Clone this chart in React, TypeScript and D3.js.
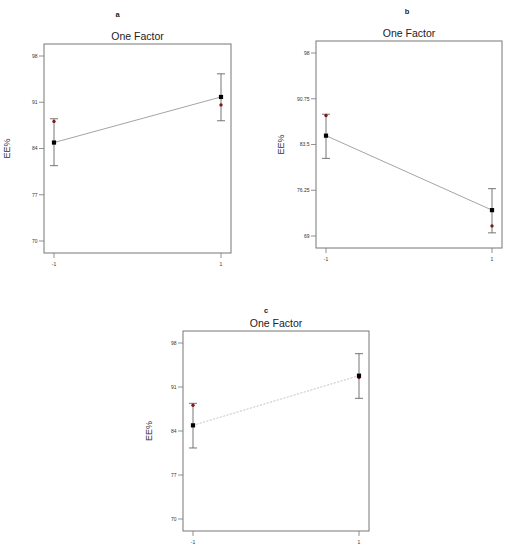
import * as d3 from "d3";

// x levels of the single factor
const LEVELS = [-1, 1];
const X_TICKS = ["-1", "1"];

// panel a
const A_TICKS = [70, 77, 84, 91, 98];
const A_MEAN = [84.9, 91.8];
const A_LOW = [81.4, 88.2];
const A_HIGH = [88.5, 95.3];
const A_ACTUAL = [88.1, 90.6];

// panel b
const B_TICKS = [69, 76.25, 83.5, 90.75, 98];
const B_MEAN = [84.9, 73.1];
const B_LOW = [81.3, 69.5];
const B_HIGH = [88.3, 76.5];
const B_ACTUAL = [88.1, 70.6];

// panel c
const C_TICKS = [70, 77, 84, 91, 98];
const C_MEAN = [84.9, 92.8];
const C_LOW = [81.3, 89.2];
const C_HIGH = [88.4, 96.3];
const C_ACTUAL = [88.1, 92.5];

const FONT = "Arial, 'Liberation Sans', sans-serif";
const PAD_X = 10;
const PAD_Y = 12;

interface PanelProps {
  letter: string;
  letterDx: number;
  letterDy: number;
  x0: number;
  x1: number;
  y0: number;
  y1: number;
  ticks: number[];
  mean: number[];
  low: number[];
  high: number[];
  actual: number[];
  dashed?: boolean;
  labelX: number;
}

function Panel(p: PanelProps) {
  const x = d3.scaleLinear().domain([-1, 1]).range([p.x0 + PAD_X, p.x1 - PAD_X]);
  const y = d3
    .scaleLinear()
    .domain([p.ticks[0], p.ticks[p.ticks.length - 1]])
    .range([p.y1 - PAD_Y, p.y0 + PAD_Y]);
  const cx = (p.x0 + p.x1) / 2;
  const line = d3
    .line<number>()
    .x((_, i) => x(LEVELS[i]))
    .y((d) => y(d));
  const cy = (p.y0 + p.y1) / 2;

  return (
    <g fontFamily={FONT}>
      <text x={cx + p.letterDx} y={p.y0 - p.letterDy} textAnchor="middle" fontSize={7.5} fontWeight="bold" fill="#222">
        {p.letter}
      </text>
      <text x={cx} y={p.y0 - 4} textAnchor="middle" fontSize={10.5} fill="#222">
        One Factor
      </text>
      <text
        transform={`translate(${p.labelX},${cy}) rotate(-90)`}
        textAnchor="middle"
        dominantBaseline="middle"
        fontSize={9}
        fill="#333"
      >
        EE%
      </text>

      <rect x={p.x0} y={p.y0} width={p.x1 - p.x0} height={p.y1 - p.y0} fill="none" stroke="#777" strokeWidth={1} />

      {p.ticks.map((t) => (
        <g key={t} transform={`translate(${p.x0},${y(t)})`}>
          <line x1={-5} x2={0} stroke="#777" strokeWidth={0.8} />
          <text x={-6.5} dy="0.35em" textAnchor="end" fontSize={5} fill="#333">
            {t}
          </text>
        </g>
      ))}

      {LEVELS.map((lv, i) => (
        <g key={lv} transform={`translate(${x(lv)},${p.y1})`}>
          <line y1={0} y2={5} stroke="#777" strokeWidth={0.8} />
          <text y={11} dy="0.35em" textAnchor="middle" fontSize={5} fill="#333">
            {X_TICKS[i]}
          </text>
        </g>
      ))}

      {LEVELS.map((lv, i) => (
        <g key={"e" + lv} stroke="#666" strokeWidth={0.9}>
          <line x1={x(lv)} x2={x(lv)} y1={y(p.low[i])} y2={y(p.high[i])} />
          <line x1={x(lv) - 4} x2={x(lv) + 4} y1={y(p.low[i])} y2={y(p.low[i])} />
          <line x1={x(lv) - 4} x2={x(lv) + 4} y1={y(p.high[i])} y2={y(p.high[i])} />
        </g>
      ))}

      <path
        d={line(p.mean) as string}
        fill="none"
        stroke={p.dashed ? "#c4c4c4" : "#9a9a9a"}
        strokeWidth={p.dashed ? 1 : 0.9}
        strokeDasharray={p.dashed ? "2,1.5" : undefined}
      />

      {LEVELS.map((lv, i) => (
        <circle key={"r" + lv} cx={x(lv)} cy={y(p.actual[i])} r={1.7} fill="#7a1a1a" />
      ))}
      {LEVELS.map((lv, i) => (
        <rect key={"m" + lv} x={x(lv) - 2.1} y={y(p.mean[i]) - 2.1} width={4.2} height={4.2} fill="#000" />
      ))}
    </g>
  );
}

export default function App() {
  return (
    <svg
      width={507}
      height={550}
      viewBox="0 0 507 550"
      style={{ position: "absolute", left: 0, top: 0, background: "#fff" }}
    >
      <rect width={507} height={550} fill="#fff" />
      <Panel
        letter="a"
        letterDx={-20}
        letterDy={27}
        x0={44}
        x1={231}
        y0={44}
        y1={253}
        ticks={A_TICKS}
        mean={A_MEAN}
        low={A_LOW}
        high={A_HIGH}
        actual={A_ACTUAL}
        labelX={8}
      />
      <Panel
        letter="b"
        letterDx={-2}
        letterDy={27}
        x0={316}
        x1={502}
        y0={41}
        y1={248}
        ticks={B_TICKS}
        mean={B_MEAN}
        low={B_LOW}
        high={B_HIGH}
        actual={B_ACTUAL}
        labelX={282}
      />
      <Panel
        letter="c"
        letterDx={-10}
        letterDy={18}
        x0={183}
        x1={369}
        y0={331}
        y1={531}
        ticks={C_TICKS}
        mean={C_MEAN}
        low={C_LOW}
        high={C_HIGH}
        actual={C_ACTUAL}
        labelX={150}
        dashed
      />
    </svg>
  );
}
